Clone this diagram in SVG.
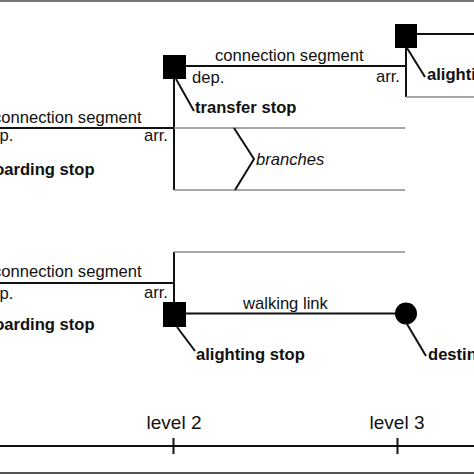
<svg xmlns="http://www.w3.org/2000/svg" width="474" height="474" viewBox="0 0 474 474">
<style>
.t{font-family:"Liberation Sans",Arial,sans-serif;font-size:16.6px;fill:#111}
.b{font-weight:bold}
.i{font-style:italic}
.lv{font-family:"Liberation Sans",Arial,sans-serif;font-size:19px;fill:#111}
.k{stroke:#111;stroke-width:2;fill:none}
.g{stroke:#8a8a8a;stroke-width:1.5;fill:none}
.ld{stroke:#111;stroke-width:2;fill:none}
</style>
<rect x="0" y="0" width="474" height="2" fill="#777"/>
<rect x="0" y="472" width="474" height="2" fill="#555"/>
<g id="connectors">
<line class="k" x1="0" y1="128" x2="174" y2="128"/>
<line class="k" x1="174" y1="67" x2="174" y2="190"/>
<line class="g" x1="174" y1="128" x2="405" y2="128"/>
<line class="g" x1="174" y1="190" x2="405" y2="190"/>
<line class="k" x1="186" y1="66" x2="406" y2="66"/>
<line class="k" x1="406" y1="36" x2="406" y2="97"/>
<line class="g" x1="406" y1="97" x2="474" y2="97"/>
<line class="k" x1="417" y1="34" x2="474" y2="34"/>
<polyline class="ld" points="234,128 254,159 235,190"/>
<line class="k" x1="0" y1="283" x2="174" y2="283"/>
<line class="k" x1="174" y1="252" x2="174" y2="315"/>
<line class="g" x1="174" y1="252" x2="405" y2="252"/>
<line class="k" x1="186" y1="313.5" x2="406" y2="313.5"/>
<line class="ld" x1="176" y1="79" x2="194" y2="111"/>
<line class="ld" x1="407" y1="48" x2="425" y2="77"/>
<line class="ld" x1="177" y1="327" x2="195" y2="351"/>
<line class="ld" x1="407" y1="324" x2="426" y2="356"/>
</g>
<g id="labels-top">
<text class="t" x="-7" y="123">connection segment</text>
<text class="t" x="-19" y="141">dep.</text>
<text class="t" x="144" y="141">arr.</text>
<text class="t b" x="-16" y="175">boarding stop</text>
<text class="t" x="215" y="61">connection segment</text>
<text class="t" x="192" y="83">dep.</text>
<text class="t" x="376" y="82">arr.</text>
<text class="t i" x="256" y="165">branches</text>
</g>
<g id="transfer-stop">
<rect x="163" y="55" width="23" height="24" fill="#000"/>
<text class="t b" x="195" y="113">transfer stop</text>
</g>
<g id="alighting-stop-top">
<rect x="395" y="24" width="22" height="24" fill="#000"/>
<text class="t b" x="427" y="80">alighting stop</text>
</g>
<g id="labels-bottom">
<text class="t" x="-7" y="277">connection segment</text>
<text class="t" x="-19" y="299">dep.</text>
<text class="t" x="144" y="298">arr.</text>
<text class="t b" x="-16" y="330">boarding stop</text>
<text class="t" x="243" y="309">walking link</text>
</g>
<g id="alighting-stop-bottom">
<rect x="163" y="302" width="23" height="25" fill="#000"/>
<text class="t b" x="196" y="360">alighting stop</text>
</g>
<g id="destination">
<circle cx="406" cy="313.5" r="11" fill="#000"/>
<text class="t b" x="428" y="360">destination</text>
</g>
<g id="axis">
<line class="k" x1="0" y1="446" x2="474" y2="446"/>
<line class="k" x1="173.5" y1="438" x2="173.5" y2="454"/>
<line class="k" x1="397.5" y1="438" x2="397.5" y2="454"/>
<text class="lv" x="174" y="429" text-anchor="middle">level 2</text>
<text class="lv" x="397" y="429" text-anchor="middle">level 3</text>
</g>
</svg>
